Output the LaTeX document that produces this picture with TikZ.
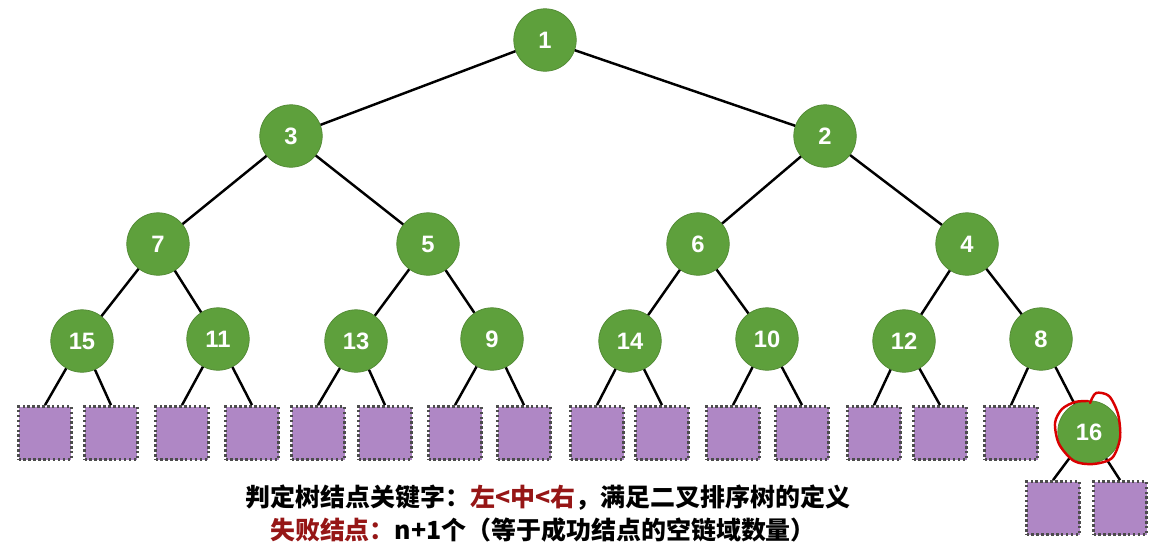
\documentclass[tikz,border=0pt]{standalone}
\usepackage{fontspec}
\setmainfont{Liberation Sans}
\newfontfamily\cjk{Noto Sans CJK SC}
\definecolor{keygreen}{RGB}{94,160,60}
\definecolor{failpurple}{RGB}{175,135,197}
\definecolor{notered}{RGB}{150,22,22}
\begin{document}
\begin{tikzpicture}[x=0.02cm, y=-0.02cm,
	key/.style={circle, draw=keygreen!85!black, line width=0.4pt, fill=keygreen, minimum size=1.25cm, inner sep=0pt, text=white, font=\bfseries\fontsize{13.5}{13.5}\selectfont},
	fail/.style={rectangle, draw=black!70, line width=1.6pt, dash pattern=on 1.4pt off 1.4pt, fill=failpurple, minimum size=1.06cm, inner sep=0pt},
	edge/.style={line width=1.4pt}]
	\useasboundingbox (0,0) rectangle (1168,552);

	\node (n1) [key] at (545,40) {1};
	\node (n3) [key] at (291,136) {3};
	\node (n2) [key] at (825,136) {2};
	\node (n7) [key] at (158,244) {7};
	\node (n5) [key] at (428,244) {5};
	\node (n6) [key] at (698,244) {6};
	\node (n4) [key] at (967,244) {4};
	\node (n15) [key] at (82,341) {15};
	\node (n11) [key] at (218,339) {11};
	\node (n13) [key] at (356,341) {13};
	\node (n9) [key] at (492,339) {9};
	\node (n14) [key] at (630,341) {14};
	\node (n10) [key] at (767,339) {10};
	\node (n12) [key] at (904,341) {12};
	\node (n8) [key] at (1041,339) {8};
	\node (n16) [key] at (1089,432) {16};

	\node (f1) [fail] at (45,433) {};
	\node (f2) [fail] at (111,433) {};
	\node (f3) [fail] at (182,433) {};
	\node (f4) [fail] at (252,433) {};
	\node (f5) [fail] at (318,433) {};
	\node (f6) [fail] at (385,433) {};
	\node (f7) [fail] at (455,433) {};
	\node (f8) [fail] at (524,433) {};
	\node (f9) [fail] at (597,433) {};
	\node (f10) [fail] at (662,433) {};
	\node (f11) [fail] at (733,433) {};
	\node (f12) [fail] at (802,433) {};
	\node (f13) [fail] at (874,433) {};
	\node (f14) [fail] at (940,433) {};
	\node (f15) [fail] at (1011,433) {};
	\node (f16) [fail] at (1053,508) {};
	\node (f17) [fail] at (1120,508) {};

	\draw[edge] (n1) -- (n3);
	\draw[edge] (n1) -- (n2);
	\draw[edge] (n3) -- (n7);
	\draw[edge] (n3) -- (n5);
	\draw[edge] (n2) -- (n6);
	\draw[edge] (n2) -- (n4);
	\draw[edge] (n7) -- (n15);
	\draw[edge] (n7) -- (n11);
	\draw[edge] (n5) -- (n13);
	\draw[edge] (n5) -- (n9);
	\draw[edge] (n6) -- (n14);
	\draw[edge] (n6) -- (n10);
	\draw[edge] (n4) -- (n12);
	\draw[edge] (n4) -- (n8);
	\draw[edge] (n15) -- (f1.north);
	\draw[edge] (n15) -- (f2.north);
	\draw[edge] (n11) -- (f3.north);
	\draw[edge] (n11) -- (f4.north);
	\draw[edge] (n13) -- (f5.north);
	\draw[edge] (n13) -- (f6.north);
	\draw[edge] (n9) -- (f7.north);
	\draw[edge] (n9) -- (f8.north);
	\draw[edge] (n14) -- (f9.north);
	\draw[edge] (n14) -- (f10.north);
	\draw[edge] (n10) -- (f11.north);
	\draw[edge] (n10) -- (f12.north);
	\draw[edge] (n12) -- (f13.north);
	\draw[edge] (n12) -- (f14.north);
	\draw[edge] (n8) -- (f15.north);
	\draw[edge] (n8) -- (n16);
	\draw[edge] (n16) -- (f16.north);
	\draw[edge] (n16) -- (f17.north);

	% hand-drawn mark round 16
	\draw[red!85!black, line width=1.4pt, line cap=round] plot[smooth] coordinates {(1090,403) (1096,393) (1109,396) (1118,414) (1120,438) (1112,458) (1093,464) (1074,461) (1059,444) (1055,423) (1062,409) (1075,402) (1088,401)};

	\node (rule) [font=\cjk\bfseries\fontsize{14.2}{14.2}\selectfont] at (548,498) {判定树结点关键字：\textcolor{notered}{左<中<右}，满足二叉排序树的定义};
	\node (count) [font=\cjk\bfseries\fontsize{14.2}{14.2}\selectfont] at (543,530) {\textcolor{notered}{失败结点：}n+1个（等于成功结点的空链域数量）};
\end{tikzpicture}
\end{document}
